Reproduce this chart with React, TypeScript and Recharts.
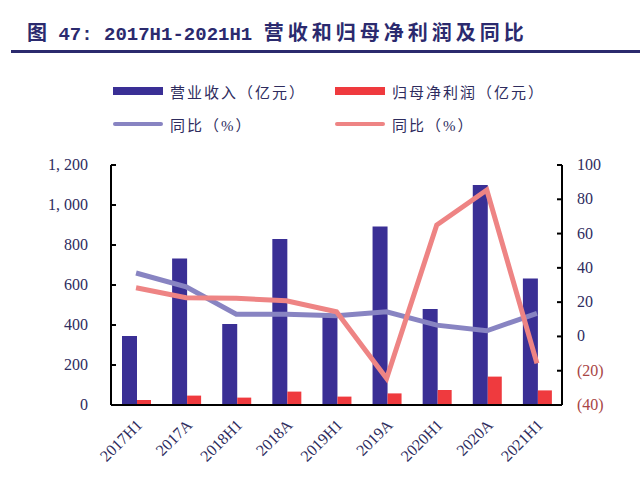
import React from 'react';
import { ComposedChart, Bar, Line, XAxis, YAxis } from 'recharts';

const categories = ['2017H1', '2017A', '2018H1', '2018A', '2019H1', '2019A', '2020H1', '2020A', '2021H1'];
const revenue = [345, 733, 405, 830, 440, 892, 480, 1100, 633];
const netProfit = [25, 47, 37, 67, 42, 58, 75, 142, 73];
const revenueYoY = [37, 29, 13, 13, 12, 14.4, 6.6, 3.3, 13.5];
const profitYoY = [28.4, 22.6, 22.2, 20.8, 14.4, -24.5, 65, 85.4, -15.7];
const leftTicks = [0, 200, 400, 600, 800, 1000, 1200];
const rightTicks = [-40, -20, 0, 20, 40, 60, 80, 100];

const titlePrefix = '图';
const titleCode = ' 47: 2017H1-2021H1 ';
const titleMain = '营收和归母净利润及同比';
const legendNames = ['营业收入（亿元）', '归母净利润（亿元）', '同比（%）', '同比（%）'];

const BLUE = '#3A2F95';
const RED = '#EF3A3E';
const PURPLE = '#8884C2';
const PINK = '#EE8484';
const NAVY = '#2E2C5E';
const TITLE = '#2B2A6E';

const data = categories.map((c, i) => ({
  name: c,
  revenue: revenue[i],
  netProfit: netProfit[i],
  revenueYoY: revenueYoY[i],
  profitYoY: profitYoY[i],
}));

const serif = '"Liberation Serif", "Noto Sans CJK SC", serif';
const cjk = '"Liberation Serif", "Noto Sans CJK SC", sans-serif';

const fmtLeft = (v: number) => {
  if (v >= 1000) {
    const s = String(v);
    return s.slice(0, s.length - 3) + ', ' + s.slice(s.length - 3);
  }
  return String(v);
};

const LeftTick = (props: any) => {
  const { x, y, payload } = props;
  const axisX = x + 23;
  return (
    <g>
      <line x1={axisX} x2={axisX + 5} y1={y} y2={y} stroke="#000" strokeWidth={2} />
      <text x={x} y={y} dy={5} textAnchor="end" fontSize={16} fontFamily={serif} fill={NAVY}>
        {fmtLeft(payload.value)}
      </text>
    </g>
  );
};

const RightTick = (props: any) => {
  const { x, y, payload } = props;
  const axisX = x - 15;
  const v = payload.value as number;
  const neg = v < 0;
  return (
    <g>
      <line x1={axisX - 5} x2={axisX} y1={y} y2={y} stroke="#000" strokeWidth={2} />
      <text x={x} y={y} dy={5} textAnchor="start" fontSize={16} fontFamily={serif} fill={neg ? '#A84545' : NAVY}>
        {neg ? `(${Math.abs(v)})` : String(v)}
      </text>
    </g>
  );
};

const XTick = (props: any) => {
  const { x, y, payload } = props;
  return (
    <text
      x={0}
      y={0}
      transform={`translate(${x + 7},${y + 13}) rotate(-45)`}
      textAnchor="end"
      fontSize={16}
      fontFamily={serif}
      fill={NAVY}
    >
      {payload.value}
    </text>
  );
};

const LegendItem = ({ left, top, kind, color, label }: any) => (
  <div style={{ position: 'absolute', left, top, display: 'flex', alignItems: 'center', height: 20 }}>
    <div
      style={{
        width: 50,
        height: kind === 'bar' ? 8 : 4,
        background: color,
        borderRadius: kind === 'bar' ? 0 : 2,
        marginRight: 7,
      }}
    />
    <span style={{ fontFamily: cjk, fontSize: 15, color: NAVY, letterSpacing: 2, whiteSpace: 'nowrap' }}>{label}</span>
  </div>
);

export default function App() {
  return (
    <div style={{ position: 'absolute', left: 0, top: 0, width: 640, height: 489, background: '#fff', overflow: 'hidden' }}>
      <div
        style={{
          position: 'absolute',
          left: 27,
          top: 17,
          color: TITLE,
          whiteSpace: 'nowrap',
          fontWeight: 700,
          display: 'flex',
          alignItems: 'baseline',
        }}
      >
        <span style={{ fontFamily: '"Noto Sans CJK SC", sans-serif', fontSize: 20 }}>{titlePrefix}</span>
        <span style={{ fontFamily: '"Liberation Mono", monospace', fontSize: 19, whiteSpace: 'pre' }}>{titleCode}</span>
        <span style={{ fontFamily: '"Noto Sans CJK SC", sans-serif', fontSize: 20, letterSpacing: 4 }}>{titleMain}</span>
      </div>
      <div style={{ position: 'absolute', left: 11, top: 50, width: 629, height: 2.5, background: TITLE }} />
      <LegendItem left={113} top={81} kind="bar" color={BLUE} label={legendNames[0]} />
      <LegendItem left={335} top={81} kind="bar" color={RED} label={legendNames[1]} />
      <LegendItem left={113} top={114} kind="line" color={PURPLE} label={legendNames[2]} />
      <LegendItem left={335} top={114} kind="line" color={PINK} label={legendNames[3]} />
      <div style={{ position: 'absolute', left: 0, top: 0 }}>
        <ComposedChart
          width={640}
          height={489}
          data={data}
          margin={{ top: 165, right: 28, bottom: 24, left: 51 }}
          barGap={0}
        >
          <XAxis
            dataKey="name"
            axisLine={{ stroke: '#000', strokeWidth: 2 }}
            tickLine={false}
            tick={<XTick />}
            interval={0}
            height={60}
          />
          <YAxis
            yAxisId="left"
            orientation="left"
            domain={[0, 1200]}
            ticks={leftTicks}
            width={60}
            axisLine={{ stroke: '#000', strokeWidth: 2 }}
            tickLine={false}
            tickSize={5}
            tickMargin={18}
            tick={<LeftTick />}
            interval={0}
          />
          <YAxis
            yAxisId="right"
            orientation="right"
            domain={[-40, 100]}
            ticks={rightTicks}
            width={50}
            axisLine={{ stroke: '#000', strokeWidth: 2 }}
            tickLine={false}
            tickSize={5}
            tickMargin={10}
            tick={<RightTick />}
            interval={0}
          />
          <Bar yAxisId="left" dataKey="revenue" fill={BLUE} barSize={15} isAnimationActive={false} />
          <Bar yAxisId="left" dataKey="netProfit" fill={RED} barSize={14} isAnimationActive={false} />
          <Line
            yAxisId="right"
            dataKey="revenueYoY"
            stroke={PURPLE}
            strokeWidth={5}
            dot={false}
            isAnimationActive={false}
          />
          <Line
            yAxisId="right"
            dataKey="profitYoY"
            stroke={PINK}
            strokeWidth={5}
            dot={false}
            isAnimationActive={false}
          />
        </ComposedChart>
      </div>
    </div>
  );
}
